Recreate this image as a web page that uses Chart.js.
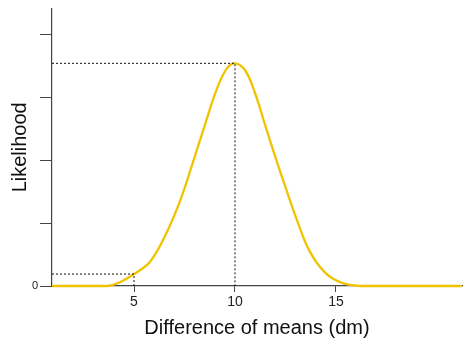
<!DOCTYPE html>
<html>
<head>
<meta charset="utf-8">
<script src="https://cdn.jsdelivr.net/npm/chart.js@4/dist/chart.umd.min.js"></script>
<style>
  html, body { margin: 0; padding: 0; background: #fff; }
  #wrap { width: 474px; height: 353px; }
</style>
</head>
<body>
<div id="wrap"><canvas id="likelihoodChart"></canvas></div>
<script>
// Curve (difference of means vs likelihood)
const diffValues = [0.94, 2, 3, 3.7, 4.3, 5, 5.8, 6.6, 7.3, 7.9, 8.5, 9.1, 9.6, 10,
  10.5, 11, 11.5, 12, 12.5, 13.1, 13.7, 14.5, 15.3, 16.2, 17, 18, 19, 20, 21.24];
const likelihoodValues = [0, 0, 0, 0, 0.06, 0.19, 0.39, 0.84, 1.37, 1.95, 2.55, 3.13, 3.46, 3.54,
  3.43, 3.06, 2.55, 2.05, 1.57, 1.02, 0.55, 0.2, 0.05, 0, 0, 0, 0, 0, 0];

// Dotted guide lines: low point at 5 and peak at 10
const lowGuideX = [0.94, 5, 5];
const lowGuideY = [0.19, 0.19, 0];
const peakGuideX = [0.94, 10, 10];
const peakGuideY = [3.54, 3.54, 0];

const xTickValues = [5, 10, 15];
const yTickValues = [0, 1, 2, 3, 4];

const toPoints = (xs, ys) => xs.map((x, i) => ({ x: x, y: ys[i] }));

const axisColor = "#444";
const fontFamily = "'Liberation Sans', Arial, sans-serif";

const guideStyle = {
  borderColor: "#111",
  borderWidth: 1,
  borderDash: [2, 2],
  pointRadius: 0,
  tension: 0,
  fill: false,
};

new Chart(document.getElementById("likelihoodChart").getContext("2d"), {
  type: "line",
  data: {
    datasets: [
      { ...guideStyle, data: toPoints(lowGuideX, lowGuideY) },
      { ...guideStyle, data: toPoints(peakGuideX, peakGuideY) },
      {
        data: toPoints(diffValues, likelihoodValues),
        borderColor: "#f0c300",
        borderWidth: 2.3,
        pointRadius: 0,
        tension: 0.4,
        fill: false,
        clip: 6,
      },
    ],
  },
  options: {
    responsive: true,
    maintainAspectRatio: false,
    animation: false,
    layout: { padding: { left: 0, right: 12, top: 8, bottom: 13 } },
    plugins: { legend: { display: false }, tooltip: { enabled: false } },
    scales: {
      x: {
        type: "linear",
        min: 0.94,
        max: 21.24,
        afterBuildTicks: (scale) => {
          scale.ticks = xTickValues.map((v) => ({ value: v }));
        },
        afterFit: (scale) => { scale.height = 54; },
        border: { display: true, color: axisColor, width: 1.2 },
        grid: { drawOnChartArea: false, drawTicks: true, tickLength: 6, color: axisColor, lineWidth: 1 },
        ticks: {
          color: "#222",
          padding: 2,
          maxRotation: 0,
          font: { family: fontFamily, size: 14 },
        },
        title: {
          display: true,
          text: "Difference of means (dm)",
          color: "#111",
          padding: { top: 2, bottom: 0 },
          font: { family: fontFamily, size: 20 },
        },
      },
      y: {
        type: "linear",
        min: 0,
        max: 4.41,
        afterBuildTicks: (scale) => {
          scale.ticks = yTickValues.map((v) => ({ value: v }));
        },
        afterFit: (scale) => { scale.width = 52; },
        border: { display: true, color: axisColor, width: 1.2 },
        grid: { drawOnChartArea: false, drawTicks: true, tickLength: 12, color: axisColor, lineWidth: 1 },
        ticks: {
          color: "#222",
          padding: 2,
          font: { family: fontFamily, size: 11 },
          callback: (v) => (v === 0 ? "0" : ""),
        },
        title: {
          display: true,
          text: "Likelihood",
          color: "#111",
          padding: { top: 8, bottom: 0 },
          font: { family: fontFamily, size: 20 },
        },
      },
    },
  },
});
</script>
</body>
</html>
